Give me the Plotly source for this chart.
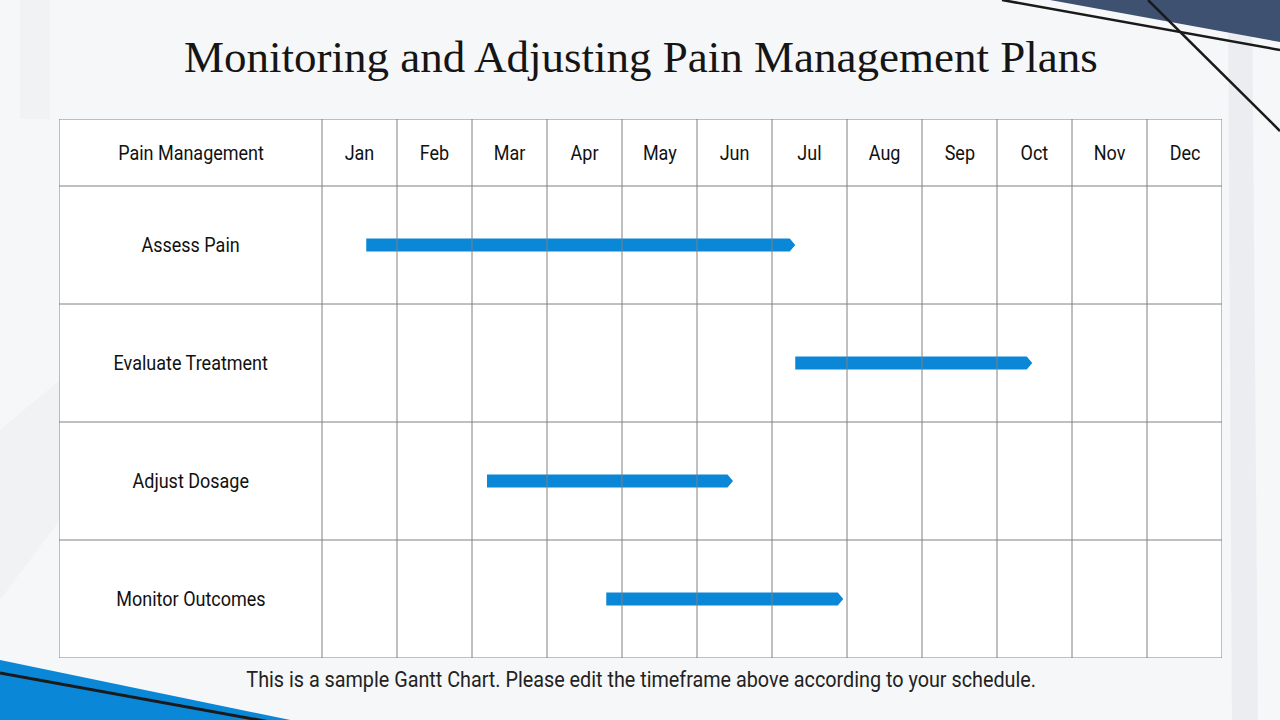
import plotly.graph_objects as go

# ---- data ----
months = ["Jan", "Feb", "Mar", "Apr", "May", "Jun", "Jul", "Aug", "Sep", "Oct", "Nov", "Dec"]
tasks = ["Assess Pain", "Evaluate Treatment", "Adjust Dosage", "Monitor Outcomes"]
start_month = [0.59, 6.31, 2.20, 3.79]   # months from start of Jan
end_month = [6.31, 9.47, 5.48, 6.95]
header_label = "Pain Management"
title_text = "Monitoring and Adjusting Pain Management Plans"
footer_text = "This is a sample Gantt Chart. Please edit the timeframe above according to your schedule."

# ---- layout geometry ----
W, H = 1280, 720
L, R, T, B = 59, 1222, 119, 658          # table box in pixels
col_px = 75.0                              # month column width
first_col = (322 - L) / col_px             # first column width in month units
row_px = 118.0
head_h = (186 - T) / row_px                # header height in row units
x0 = -first_col
y_top = -head_h
n_rows = len(tasks)

BAR = "#0A87D6"
GRID = "#808080"
CELL_FONT = "Roboto, DejaVu Sans, Arial"

fig = go.Figure()

# bars as polygons with pointed right end
half = 6.5 / row_px
tip = 5.5 / col_px
xs, ys = [], []
for i, (s, e) in enumerate(zip(start_month, end_month)):
    c = i + 0.5
    xs += [s, e - tip, e, e - tip, s, s, None]
    ys += [c - half, c - half, c, c + half, c + half, c - half, None]
fig.add_trace(go.Scatter(x=xs, y=ys, mode="lines", fill="toself", fillcolor=BAR,
                         line=dict(width=0, color=BAR), hoverinfo="skip", showlegend=False))

shapes = []
# grid lines
for xv in [x0] + list(range(0, len(months) + 1)):
    shapes.append(dict(type="line", xref="x", yref="y", x0=xv, x1=xv, y0=y_top, y1=n_rows,
                       line=dict(color=GRID, width=1), layer="above"))
for yv in [y_top] + list(range(0, n_rows + 1)):
    shapes.append(dict(type="line", xref="x", yref="y", x0=x0, x1=len(months), y0=yv, y1=yv,
                       line=dict(color=GRID, width=1), layer="above"))

# decorations in pixel space -> paper coords
def px(xp):
    return (xp - L) / (R - L)

def py(yp):
    return (B - yp) / (B - T)

def path(pts):
    return "M " + " L ".join(f"{px(a):.5f},{py(b):.5f}" for a, b in pts) + " Z"

# faint background structures
for pts, col in [
    ([(1228, 0), (1252, 0), (1258, 720), (1232, 720)], "rgba(225,228,232,0.5)"),
    ([(0, 430), (60, 380), (60, 520), (0, 600)], "rgba(228,231,235,0.35)"),
    ([(20, 0), (50, 0), (50, 119), (20, 119)], "rgba(232,234,238,0.45)"),
]:
    shapes.append(dict(type="path", xref="paper", yref="paper", path=path(pts),
                       fillcolor=col, line=dict(width=0), layer="below"))

# top right navy triangle and lines
shapes.append(dict(type="path", xref="paper", yref="paper",
                   path=path([(1050, 0), (1280, 0), (1280, 42)]),
                   fillcolor="#3F5170", line=dict(width=0), layer="above"))
shapes.append(dict(type="line", xref="paper", yref="paper", x0=px(1002), y0=py(0), x1=px(1280), y1=py(50),
                   line=dict(color="#1a1a1a", width=2.5), layer="above"))
shapes.append(dict(type="line", xref="paper", yref="paper", x0=px(1148), y0=py(0), x1=px(1280), y1=py(131),
                   line=dict(color="#1a1a1a", width=2.5), layer="above"))
# bottom left blue triangle and line
shapes.append(dict(type="path", xref="paper", yref="paper",
                   path=path([(0, 660), (300, 722), (0, 722)]),
                   fillcolor="#0A87D6", line=dict(width=0), layer="above"))
shapes.append(dict(type="line", xref="paper", yref="paper", x0=px(0), y0=py(673), x1=px(270), y1=py(722),
                   line=dict(color="#1a1a1a", width=3), layer="above"))

annotations = []
cell_font = dict(family=CELL_FONT, size=20, color="#111111")
annotations.append(dict(x=x0 / 2, y=y_top / 2, xref="x", yref="y", text=header_label, showarrow=False,
                        font=cell_font))
for j, m in enumerate(months):
    annotations.append(dict(x=j + 0.5, y=y_top / 2, xref="x", yref="y", text=m, showarrow=False,
                            font=cell_font))
for i, t in enumerate(tasks):
    annotations.append(dict(x=x0 / 2, y=i + 0.5, xref="x", yref="y", text=t, showarrow=False,
                            font=cell_font))
annotations.append(dict(x=px(641), y=py(57), xref="paper", yref="paper", text=title_text, showarrow=False,
                        xanchor="center", yanchor="middle",
                        font=dict(family="Liberation Serif, DejaVu Serif, serif", size=45, color="#151515")))
annotations.append(dict(x=px(641), y=py(679), xref="paper", yref="paper", text=footer_text, showarrow=False,
                        xanchor="center", yanchor="middle",
                        font=dict(family=CELL_FONT, size=22, color="#222222")))

fig.update_layout(
    width=W, height=H,
    margin=dict(l=L, r=W - R, t=T, b=H - B, pad=0),
    paper_bgcolor="#f6f7f8",
    plot_bgcolor="#ffffff",
    xaxis=dict(range=[x0, len(months)], showgrid=False, zeroline=False, showticklabels=False,
               ticks="", fixedrange=True),
    yaxis=dict(range=[n_rows, y_top], showgrid=False, zeroline=False, showticklabels=False,
               ticks="", fixedrange=True),
    shapes=shapes,
    annotations=annotations,
    showlegend=False,
)

# narrow the sans-serif texts horizontally to imitate the condensed face of the original
post = """
document.body.style.margin = '0';
document.body.style.overflow = 'hidden';
document.querySelectorAll('.annotation-text').forEach(function(el){
  if ((el.style.fontFamily || '').indexOf('Roboto') >= 0) {
    el.style.transformBox = 'fill-box';
    el.style.transformOrigin = 'center';
    el.style.transform = 'scaleX(0.9)';
  }
});
"""
fig.write_html("out.html", config={"displayModeBar": False}, post_script=post)
